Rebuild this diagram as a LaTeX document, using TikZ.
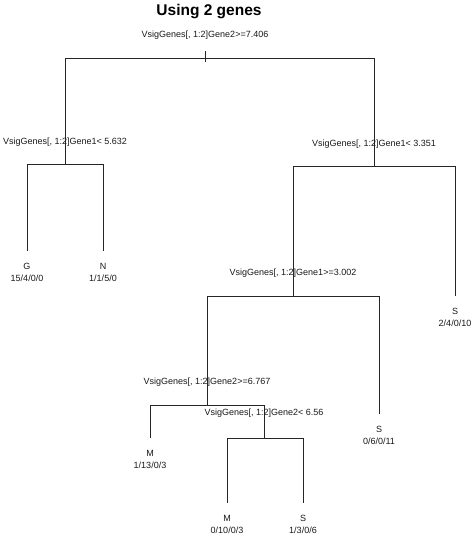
\documentclass[tikz,border=0pt]{standalone}
\usepackage{fontspec}
\setmainfont{Liberation Sans}
\usetikzlibrary{positioning}

\begin{document}
\begin{tikzpicture}[
  x=1pt, y=-1pt,
  edge/.style={line width=0.8pt, draw=black!85},
  split/.style={font=\fontsize{9}{11}\selectfont, inner sep=0pt, text=black!90},
  leaf/.style={font=\fontsize{9}{12}\selectfont, align=center, inner sep=0pt, text=black!90},
  heading/.style={font=\fontsize{15.5}{18}\selectfont\bfseries}
]
\useasboundingbox (0,0) rectangle (474,538);

\node[heading] (title) at (209,12) {Using 2 genes};

% tree points
\coordinate (root) at (205,58);
\coordinate (nA) at (65,164);
\coordinate (nB) at (374,166);
\coordinate (lG) at (27,251);
\coordinate (lN) at (103,251);
\coordinate (nC) at (293,296);
\coordinate (lS1) at (455,296);
\coordinate (nD) at (207,405);
\coordinate (lS2) at (379,414);
\coordinate (lM1) at (150,438);
\coordinate (nE) at (264,438);
\coordinate (lM2) at (227,503);
\coordinate (lS3) at (303,503);

% branches
\draw[edge] ([yshift=7pt]root) -- ([yshift=-4pt]root);
\foreach \p/\c in {root/nA, root/nB, nA/lG, nA/lN, nB/nC, nB/lS1,
                   nC/nD, nC/lS2, nD/lM1, nD/nE, nE/lM2, nE/lS3}
  \draw[edge] (\p) -| (\c);

% split rules
\node[split, above=18pt of root] (sRoot) {VsigGenes[, 1:2]Gene2>=7.406};
\node[split, above=17pt of nA] (sA) {VsigGenes[, 1:2]Gene1< 5.632};
\node[split, above=17pt of nB] (sB) {VsigGenes[, 1:2]Gene1< 3.351};
\node[split, above=18pt of nC] (sC) {VsigGenes[, 1:2]Gene1>=3.002};
\node[split, above=18pt of nD] (sD) {VsigGenes[, 1:2]Gene2>=6.767};
\node[split, above=20pt of nE] (sE) {VsigGenes[, 1:2]Gene2< 6.56};

% leaves
\node[leaf, below=12pt of lG] (tG) {G\\15/4/0/0};
\node[leaf, below=12pt of lN] (tN) {N\\1/1/5/0};
\node[leaf, below=12pt of lS1] (tS1) {S\\2/4/0/10};
\node[leaf, below=12pt of lS2] (tS2) {S\\0/6/0/11};
\node[leaf, below=12pt of lM1] (tM1) {M\\1/13/0/3};
\node[leaf, below=12pt of lM2] (tM2) {M\\0/10/0/3};
\node[leaf, below=12pt of lS3] (tS3) {S\\1/3/0/6};
\end{tikzpicture}
\end{document}
